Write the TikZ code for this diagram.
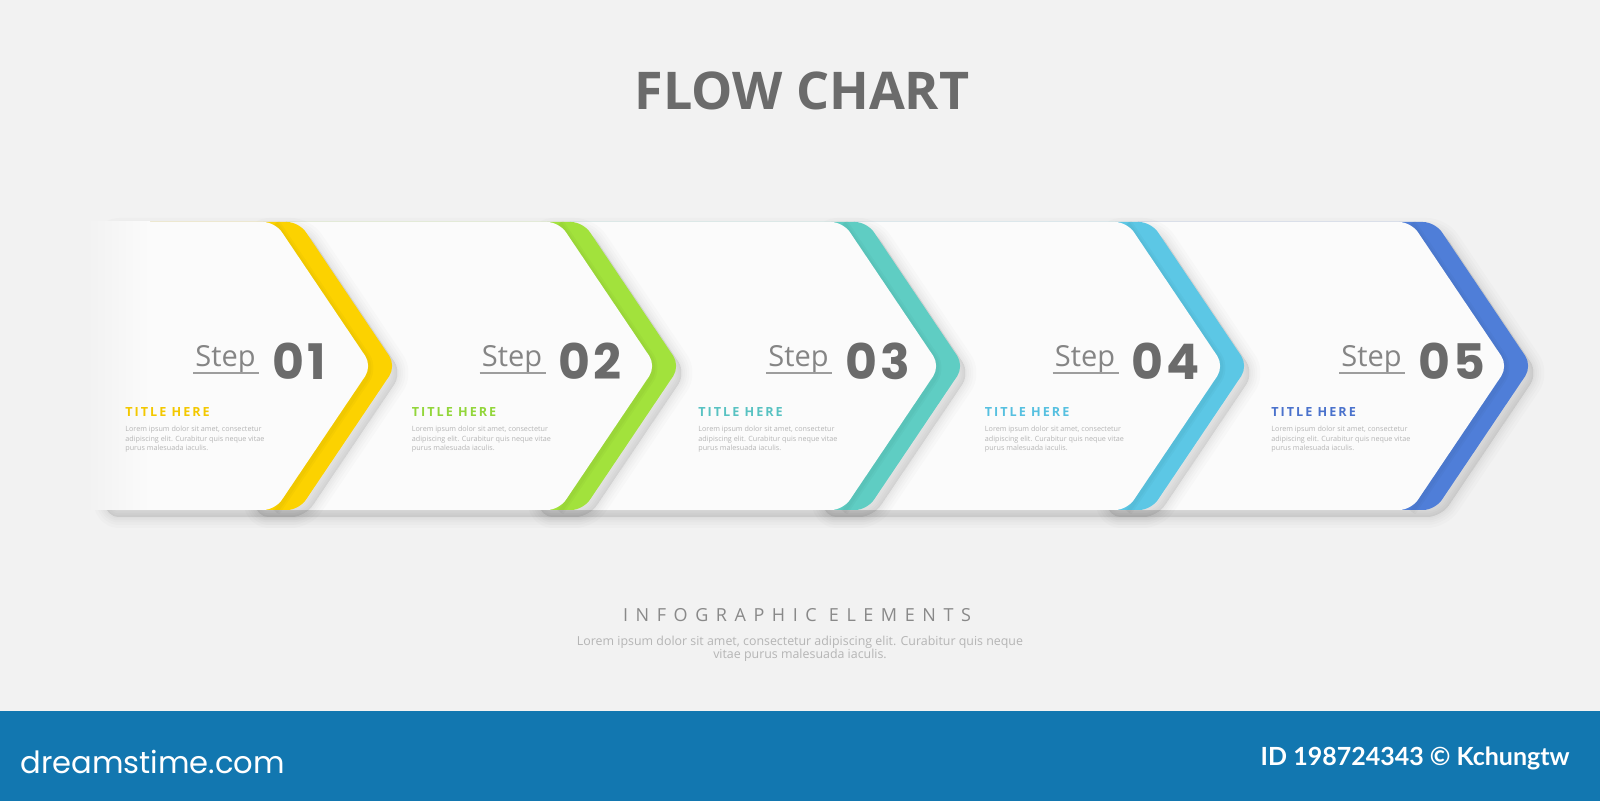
\documentclass[tikz,border=0pt]{standalone}
\usepackage{fontspec}
\setmainfont{Open Sans}
\newfontfamily\popfont{Poppins}
\newfontfamily\numfont[LetterSpace=6]{Poppins}
\newfontfamily\latofont{Lato}
\newfontfamily\trackfont[LetterSpace=16]{Open Sans}
\newfontfamily\widefont[LetterSpace=42]{Open Sans}
\usetikzlibrary{calc}
\definecolor{bgc}{HTML}{F2F2F2}
\definecolor{cardc}{HTML}{FBFBFB}
\definecolor{bannerc}{HTML}{1277B0}
\definecolor{darkg}{HTML}{6B6B6B}
\definecolor{stepg}{HTML}{858585}
\definecolor{loremg}{HTML}{B5B5B5}
\definecolor{cA}{HTML}{FCD200}
\definecolor{cB}{HTML}{A2E23C}
\definecolor{cC}{HTML}{5FCDC3}
\definecolor{cD}{HTML}{5CC7E5}
\definecolor{cE}{HTML}{4F7ED8}
\definecolor{tA}{HTML}{F3C800}
\definecolor{tB}{HTML}{92D63A}
\definecolor{tC}{HTML}{58C2C2}
\definecolor{tD}{HTML}{56C0E0}
\definecolor{tE}{HTML}{4A72CC}
\tikzset{
  steptext/.style={inner sep=0pt, text=stepg, font=\fontsize{14.5}{16}\selectfont},
  numtext/.style={inner sep=0pt, text=darkg, font=\numfont\bfseries\fontsize{24.5}{28}\selectfont},
  titletext/.style={inner sep=0pt, font=\trackfont\bfseries\fontsize{6.3}{7}\selectfont},
  bodytext/.style={inner sep=0pt, text=loremg, align=left, font=\fontsize{3.6}{4.7}\selectfont},
  stepline/.style={draw=stepg!80, line width=0.6pt},
  softshadow/.style={black, opacity=0.014, line join=round, rounded corners=7pt},
}
% #1 left edge of card, #2 left edge of shadow, #3 band colour
\newcommand{\cardshape}[3]{%
    \foreach \w in {22,16,11,7,3}{
      \filldraw[softshadow, line width=\w*0.5pt]
        (#2+5,229) -- (305,229) -- (402,373) -- (305,517) -- (#2+5,517) -- cycle;
    }
    \fill[#3, rounded corners=6pt]
      (#1+24,222) -- (299,222) -- (396,366) -- (299,510) -- (#1+24,510) -- cycle;
    \foreach \w in {8,4}{
      \draw[black, opacity=0.025, line width=\w*0.5pt, line join=round, rounded corners=7pt]
        (276,223) -- (374,368) -- (276,512);
    }
    \fill[cardc, rounded corners=6pt]
      (#1,222) -- (275,222) -- (372,366) -- (275,510) -- (#1,510) -- cycle;
}
\newcommand{\cardtext}[4]{% #1 text shift, #2 title colour, #3 number, #4 index
  \node[steptext, anchor=base east] (step#4) at (#1+256,367) {Step};
  \draw[stepline] ($(step#4.base west)+(-2,6)$) -- ($(step#4.base east)+(3,6)$);
  \node[numtext, anchor=base west] (num#4) at (#1+272,380) {#3};
  \node[titletext, text=#2, anchor=base west] (title#4) at (#1+125,417) {TITLE HERE};
  \node[bodytext, anchor=north west] (body#4) at (#1+125,426)
    {Lorem ipsum dolor sit amet, consectetur\\adipiscing elit. Curabitur quis neque vitae\\purus malesuada iaculis.};
}
\newcommand{\card}[7]{%
  \begin{scope}[shift={(#1,0)}]
    \cardshape{#2}{#2}{#3}
  \end{scope}
  \cardtext{#6}{#4}{#5}{#7}
}
\begin{document}
\begin{tikzpicture}[x=0.5pt, y=-0.5pt]
  \fill[bgc] (0,0) rectangle (1600,801);
  \useasboundingbox (0,0) rectangle (1600,801);

  \node[inner sep=0pt, text=darkg, font=\bfseries\fontsize{26}{30}\selectfont, anchor=base] (title) at (802,110) {FLOW CHART};

  \card{1136}{-34}{cE}{tE}{05}{1146}{5}
  \card{852}{-34}{cD}{tD}{04}{859.5}{4}
  \card{568}{-34}{cC}{tC}{03}{573}{3}
  \card{284}{-34}{cB}{tB}{02}{286.5}{2}
  % first card, with faded left edge
  \cardshape{88}{100}{cA}
  \shade[left color=bgc, right color=cardc] (87,222) rectangle (150,510);
  \cardtext{0}{tA}{01}{1}

  \node[inner sep=0pt, text=darkg!80, font=\widefont\fontsize{9}{10}\selectfont, anchor=base] (info) at (797,621) {INFOGRAPHIC ELEMENTS};
  \node[inner sep=0pt, text=loremg, font=\fontsize{6.2}{7}\selectfont, anchor=base] (lorem1) at (800,645) {Lorem ipsum dolor sit amet, consectetur adipiscing elit. Curabitur quis neque};
  \node[inner sep=0pt, text=loremg, font=\fontsize{6.2}{7}\selectfont, anchor=base] (lorem2) at (800,658) {vitae purus malesuada iaculis.};

  \fill[bannerc] (0,711) rectangle (1600,801);
  \node[inner sep=0pt, text=white, font=\popfont\fontsize{15.3}{18}\selectfont, anchor=base west] (brand) at (20,773) {dreamstime.com};
  \node[inner sep=0pt, text=white, font=\latofont\bfseries\fontsize{12.5}{14}\selectfont, anchor=base east] (credit) at (1570,765) {ID 198724343 © Kchungtw};
\end{tikzpicture}
\end{document}
